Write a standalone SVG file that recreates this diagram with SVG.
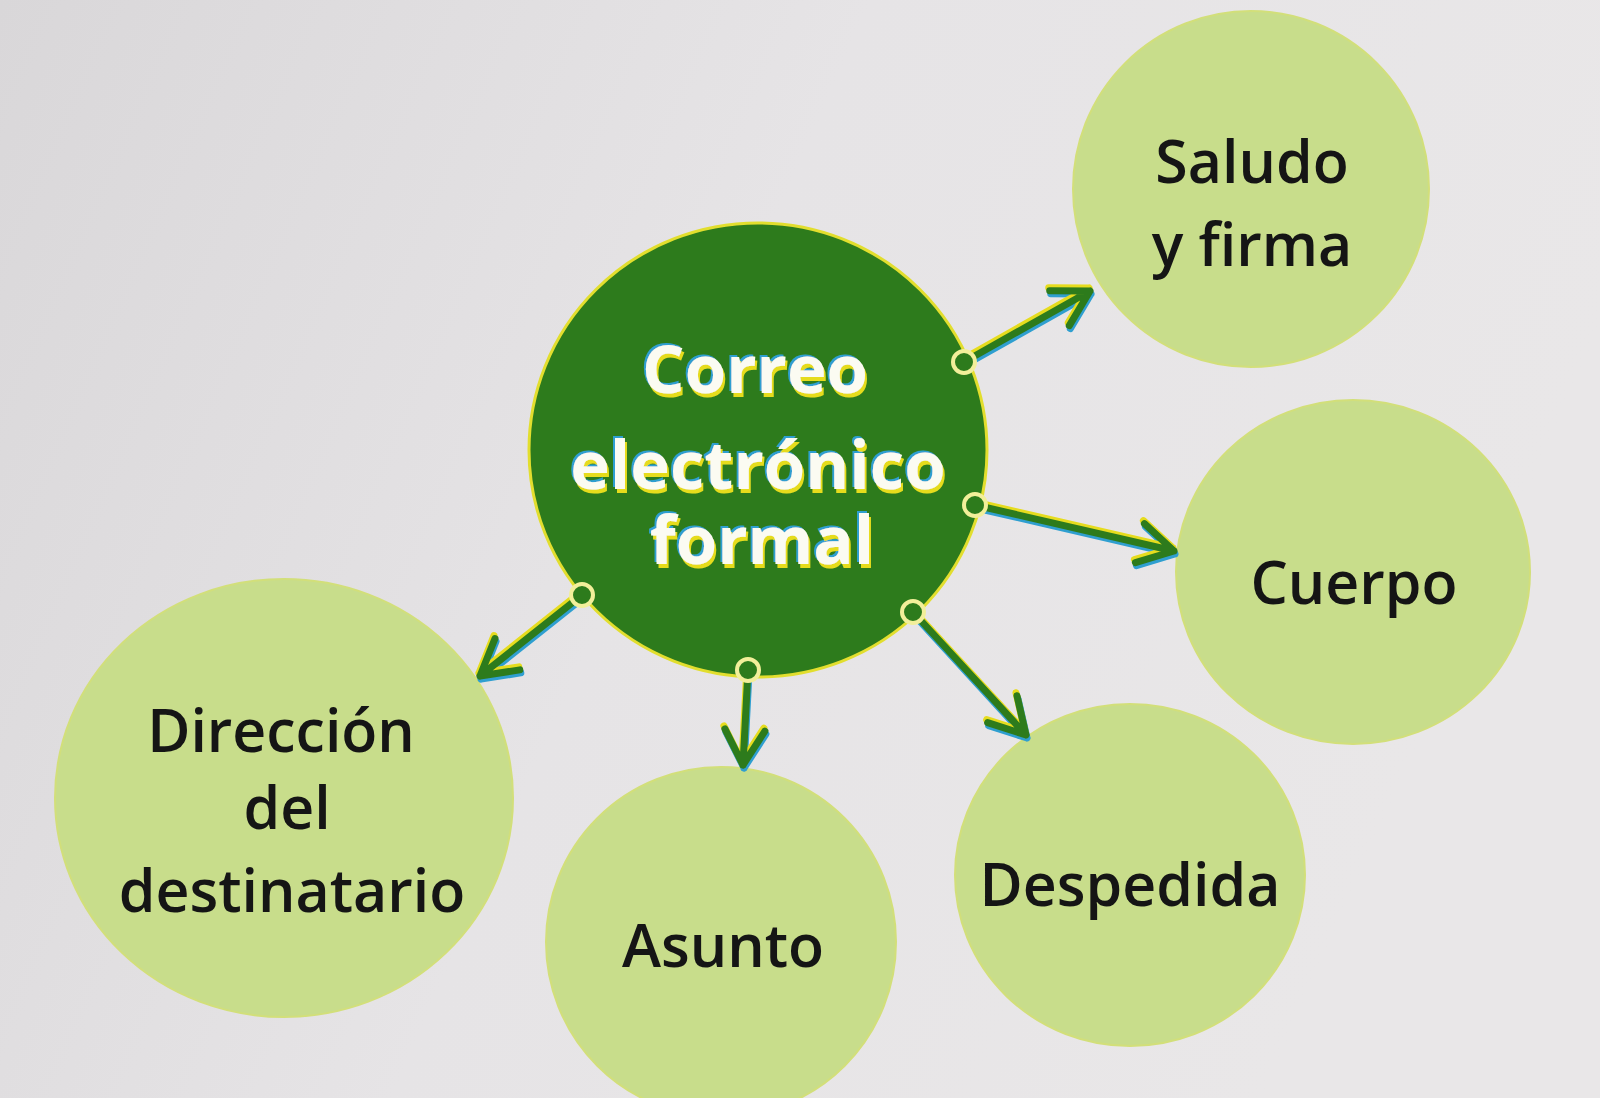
<svg xmlns="http://www.w3.org/2000/svg" xmlns:xlink="http://www.w3.org/1999/xlink" width="1600" height="1098" viewBox="0 0 1600 1098">
<defs>
<linearGradient id="bg" x1="0" y1="0" x2="1" y2="0.3">
<stop offset="0" stop-color="#d9d7d9"/>
<stop offset="0.5" stop-color="#e6e4e6"/>
<stop offset="1" stop-color="#e9e7e8"/>
</linearGradient>
<filter id="ts" x="-10%" y="-20%" width="120%" height="140%">
<feOffset in="SourceAlpha" dx="-2" dy="-2" result="o2"/>
<feFlood flood-color="#2f9fd0"/>
<feComposite in2="o2" operator="in" result="b"/>
<feOffset in="SourceAlpha" dx="2" dy="4" result="o1"/>
<feFlood flood-color="#e6dc1e"/>
<feComposite in2="o1" operator="in" result="y"/>
<feMerge><feMergeNode in="b"/><feMergeNode in="y"/><feMergeNode in="SourceGraphic"/></feMerge>
</filter>
<style>
.leaf{fill:#c8dd8b;stroke:#d2df7a;stroke-width:2}
.hub{fill:#2d7b1c;stroke:#e2de2e;stroke-width:3}
.lbl{font-family:"Open Sans","Noto Sans","Liberation Sans",sans-serif;font-size:59px;font-weight:600;fill:#151515;text-anchor:middle}
.hubt{font-family:"Open Sans","Noto Sans","Liberation Sans",sans-serif;font-size:67px;font-weight:bold;text-anchor:middle;fill:#fbfbf2}
.lk{fill:none;stroke-width:7;stroke-linecap:round;stroke-linejoin:round}
.ring{fill:#2d7b1c;stroke:#f2ef9a;stroke-width:4}
</style>
<g id="links">
<path class="lk" d="M964,362 L1090,291 M1069.3,325.6 L1090,291 L1049.7,290.8"/>
<path class="lk" d="M975,505 L1174,551 M1135.4,562.6 L1174,551 L1144.4,523.6"/>
<path class="lk" d="M913,612 L1026,735 M987.6,722.7 L1026,735 L1017,695.7"/>
<path class="lk" d="M748,670 L743,765 M724.9,728.9 L743,765 L764.9,731.1"/>
<path class="lk" d="M582,595 L480,676 M495,638.5 L480,676 L519.8,669.9"/>
</g>
</defs>
<rect width="1600" height="1098" fill="url(#bg)"/>

<g id="node-saludo">
<circle class="leaf" cx="1251" cy="189" r="178"/>
<text class="lbl" x="1252" y="183">Saludo</text>
<text class="lbl" x="1252" y="266">y firma</text>
</g>
<g id="node-cuerpo">
<ellipse class="leaf" cx="1353" cy="572" rx="177" ry="172"/>
<text class="lbl" x="1354" y="604">Cuerpo</text>
</g>
<g id="node-despedida">
<ellipse class="leaf" cx="1130" cy="875" rx="175" ry="171"/>
<text class="lbl" x="1130" y="906">Despedida</text>
</g>
<g id="node-asunto">
<circle class="leaf" cx="721" cy="942" r="175"/>
<text class="lbl" x="723" y="967">Asunto</text>
</g>
<g id="node-direccion">
<ellipse class="leaf" cx="284" cy="798" rx="229" ry="219"/>
<text class="lbl" x="281" y="752">Dirección</text>
<text class="lbl" x="287" y="829">del</text>
<text class="lbl" x="292" y="912">destinatario</text>
</g>

<g id="node-correo">
<ellipse class="hub" cx="758" cy="450" rx="229" ry="227"/>
<g class="hubt" filter="url(#ts)">
<text x="755" y="393">Correo</text>
<text x="758" y="489">electrónico</text>
<text x="762" y="564">formal</text>
</g>
</g>

<g id="connectors">
<use xlink:href="#links" href="#links" transform="translate(1,3)" style="stroke:#2f9fd0"/>
<use xlink:href="#links" href="#links" transform="translate(-1,-3)" style="stroke:#e6dc1e"/>
<use xlink:href="#links" href="#links" style="stroke:#2d7b1c"/>
<circle class="ring" cx="964" cy="362" r="11"/>
<circle class="ring" cx="975" cy="505" r="11"/>
<circle class="ring" cx="913" cy="612" r="11"/>
<circle class="ring" cx="748" cy="670" r="11"/>
<circle class="ring" cx="582" cy="595" r="11"/>
</g>
</svg>
